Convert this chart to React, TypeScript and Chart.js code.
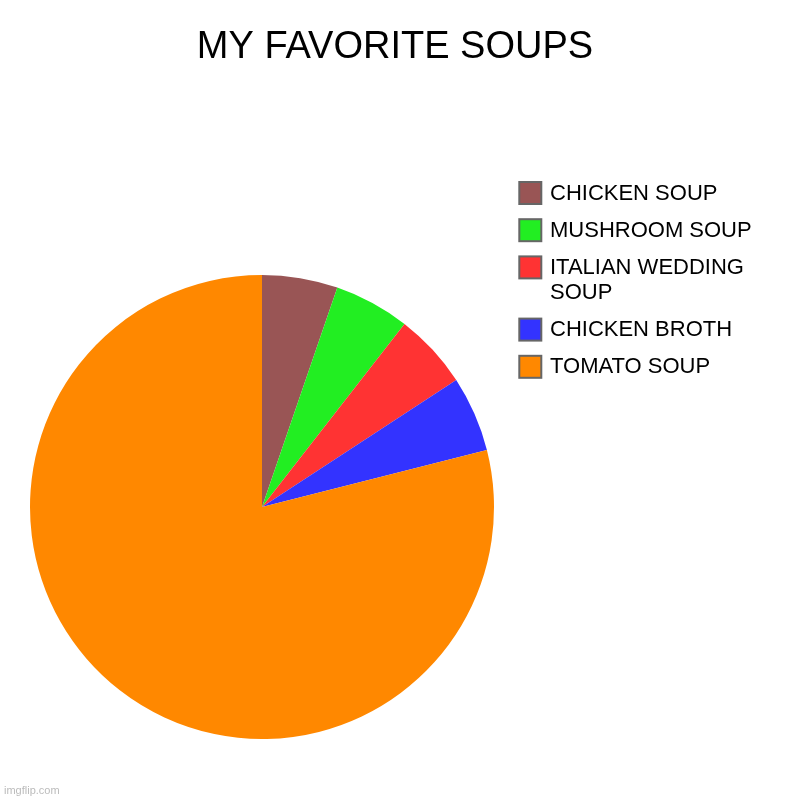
import React, { useEffect, useRef } from "react";
import { Chart, registerables } from "chart.js";

Chart.register(...registerables);

const soups = ["CHICKEN SOUP", "MUSHROOM SOUP", "ITALIAN WEDDING SOUP", "CHICKEN BROTH", "TOMATO SOUP"];
const votes = [1, 1, 1, 1, 15];
const sliceColors = ["#995555", "#22ee22", "#ff3333", "#3333ff", "#ff8800"];
const chartTitle = "MY FAVORITE SOUPS";
const watermark = "imgflip.com";

const FONT = "'Liberation Sans', Arial, sans-serif";

// split a label into lines that fit maxWidth
const wrapText = (ctx: CanvasRenderingContext2D, text: string, maxWidth: number) => {
  const words = text.split(" ");
  const lines: string[] = [];
  let line = "";
  words.forEach((w) => {
    const test = line ? line + " " + w : w;
    if (line && ctx.measureText(test).width > maxWidth) {
      lines.push(line);
      line = w;
    } else {
      line = test;
    }
  });
  if (line) lines.push(line);
  return lines;
};

// draws the title, the legend on the right and the watermark
const decorPlugin = {
  id: "decor",
  afterDraw(chart: Chart) {
    const ctx = chart.ctx;
    ctx.save();

    ctx.fillStyle = "#000";
    ctx.font = `38px ${FONT}`;
    ctx.textAlign = "center";
    ctx.textBaseline = "middle";
    ctx.fillText(chartTitle, 395, 48);

    const labels = chart.data.labels as string[];
    const colors = chart.data.datasets[0].backgroundColor as string[];
    ctx.font = `22px ${FONT}`;
    ctx.textAlign = "left";
    let top = 181;
    labels.forEach((label, i) => {
      ctx.fillStyle = colors[i];
      ctx.fillRect(519.3, top + 1, 22, 22);
      ctx.strokeStyle = "#666";
      ctx.lineWidth = 2;
      ctx.strokeRect(519.3, top + 1, 22, 22);
      const lines = wrapText(ctx, label, 230);
      ctx.fillStyle = "#000";
      lines.forEach((ln, j) => {
        ctx.fillText(ln, 550, top + 12.5 + j * 25);
      });
      top += 37.2 + (lines.length - 1) * 25;
    });

    ctx.fillStyle = "#bbb";
    ctx.font = `11px ${FONT}`;
    ctx.textBaseline = "alphabetic";
    ctx.fillText(watermark, 4, 794);
    ctx.restore();
  },
};

const SoupPie: React.FC = () => {
  const chartRef = useRef<HTMLCanvasElement | null>(null);
  const chartInstance = useRef<Chart | null>(null);

  useEffect(() => {
    document.body.style.margin = "0";
    if (!chartRef.current) return;
    if (chartInstance.current) chartInstance.current.destroy();

    chartInstance.current = new Chart(chartRef.current, {
      type: "pie",
      data: {
        labels: soups,
        datasets: [
          {
            data: votes,
            backgroundColor: sliceColors,
            borderWidth: 0,
          },
        ],
      },
      options: {
        responsive: false,
        animation: false,
        layout: {
          padding: { left: 30, right: 306, top: 275, bottom: 61 },
        },
        plugins: {
          legend: { display: false },
          title: { display: false },
          tooltip: { enabled: false },
        },
      },
      plugins: [decorPlugin],
    });

    return () => {
      if (chartInstance.current) {
        chartInstance.current.destroy();
        chartInstance.current = null;
      }
    };
  }, []);

  return (
    <div style={{ width: 800, height: 800, background: "#fff" }}>
      <canvas ref={chartRef} width={800} height={800}></canvas>
    </div>
  );
};

export default function App() {
  return <SoupPie />;
}
